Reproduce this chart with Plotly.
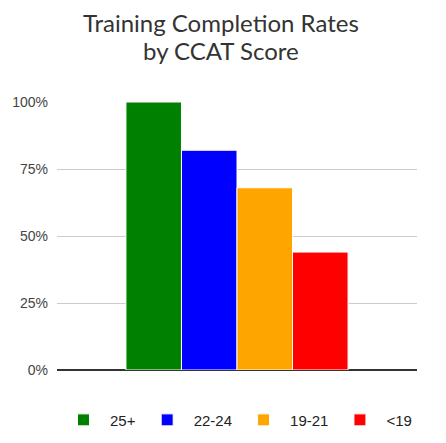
import plotly.graph_objects as go

# completion rate (%) by CCAT score band
groups = ["25+", "22-24", "19-21", "<19"]
rates = [100, 82, 68, 44]
colors = ["#008000", "#0000ff", "#ffa500", "#ff0000"]
category = ["CCAT"]
ticks = [0, 25, 50, 75, 100]

fig = go.Figure()
for g, r, c in zip(groups, rates, colors):
    fig.add_trace(go.Bar(x=category, y=[r], name=g,
                         marker=dict(color=c, line=dict(color="white", width=1))))

title_font = dict(family="Lato", size=24, color="#333333")

# page body adds an 8px offset, so the figure is 8px smaller each way
fig.update_layout(
    width=438, height=435,
    barmode="group", bargap=0.383, bargroupgap=0,
    plot_bgcolor="white", paper_bgcolor="white",
    margin=dict(l=49, r=29, t=94, b=73, autoexpand=False),
    title=dict(text="Training Completion Rates",
               x=0.486, xanchor="center", y=0.9648, yanchor="middle",
               font=title_font),
    font=dict(family="Liberation Sans, Arial", size=13, color="#444444"),
    showlegend=True,
    legend=dict(orientation="h", x=0.5, xanchor="center", y=-0.187, yanchor="middle",
                font=dict(family="Liberation Sans, Arial", size=15, color="#222222"),
                itemwidth=43, traceorder="normal"),
)
# second title line kept tight to the first
fig.add_annotation(text="by CCAT Score", xref="paper", yref="paper",
                   x=0.4556, xanchor="center", y=1.193, yanchor="middle",
                   showarrow=False, font=title_font)

fig.update_xaxes(showticklabels=False, showgrid=False, showline=False, zeroline=False,
                 automargin=False)
fig.update_yaxes(range=[0, 100], tickmode="array", tickvals=ticks,
                 ticktext=[f"{t}%" for t in ticks],
                 showgrid=True, gridcolor="#cccccc", gridwidth=1,
                 zeroline=True, zerolinecolor="#333333", zerolinewidth=2,
                 ticklabelstandoff=8, tickfont=dict(size=14, color="#444444"),
                 automargin=False)

fig.write_html("out.html")
